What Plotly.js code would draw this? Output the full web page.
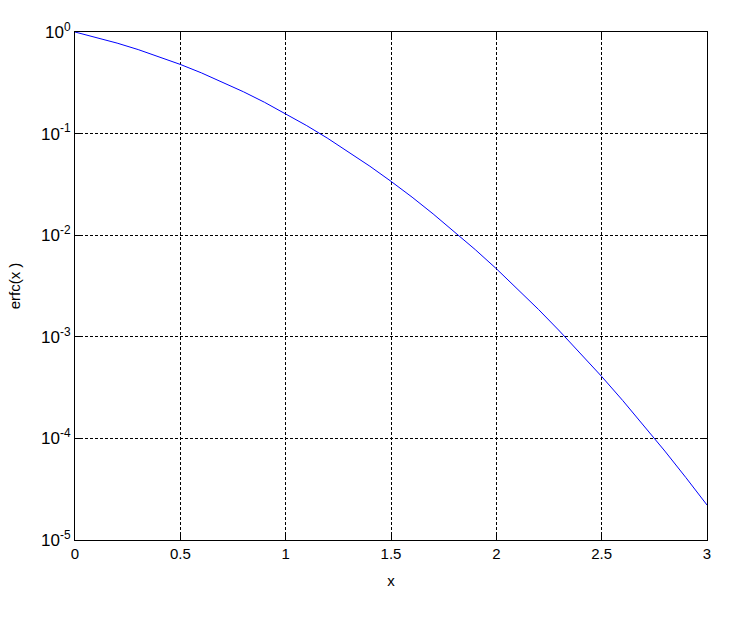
<!DOCTYPE html>
<html>
<head>
<meta charset="utf-8">
<script src="https://cdn.plot.ly/plotly-3.0.1.min.js"></script>
<style>html,body{margin:0;padding:0;background:#fff;}#chart{width:752px;height:618px;}</style>
</head>
<body>
<div id="chart"></div>
<script>
const xValues = [0,0.1,0.2,0.3,0.4,0.5,0.6,0.7,0.8,0.9,1.0,1.1,1.2,1.3,1.4,1.5,1.6,1.7,1.8,1.9,2.0,2.1,2.2,2.3,2.4,2.5,2.6,2.7,2.8,2.9,3.0];
const erfcValues = [1,0.8875,0.7773,0.6714,0.5716,0.4795,0.3961,0.3222,0.2579,0.2031,0.1573,0.1198,0.0897,0.0660,0.0477,0.0339,0.0237,0.0162,0.0109,0.00721,0.00468,0.00298,0.00186,0.00114,0.000689,0.000407,0.000236,0.000134,0.0000750,0.0000411,0.0000221];
const xTicks = [0,0.5,1,1.5,2,2.5,3];
const xTickLabels = ['0','0.5','1','1.5','2','2.5','3'];
const yTicks = [1,0.1,0.01,0.001,0.0001,0.00001];
const yTickLabels = ['10<sup>0</sup>','10<sup>-1</sup>','10<sup>-2</sup>','10<sup>-3</sup>','10<sup>-4</sup>','10<sup>-5</sup>'];

const font = {family:'Liberation Sans, Arial, sans-serif', size:15, color:'#000'};
const yfont = {family:'Liberation Sans, Arial, sans-serif', size:17, color:'#000'};
Plotly.newPlot('chart', [{
  x: xValues, y: erfcValues, type:'scatter', mode:'lines',
  line:{color:'#0000ff', width:1}
}], {
  width:752, height:618,
  margin:{l:75, r:45, t:32, b:78},
  paper_bgcolor:'#fff', plot_bgcolor:'#fff',
  showlegend:false,
  font: font,
  xaxis:{
    range:[0,3], tickvals:xTicks, ticktext:xTickLabels,
    showgrid:true, gridcolor:'#000', griddash:'3px,2px', gridwidth:1,
    showline:true, linecolor:'#000', linewidth:1, mirror:'ticks',
    ticks:'inside', ticklen:5, tickcolor:'#000',
    zeroline:false, tickfont:font,
    title:{text:'x', font:font, standoff:14}
  },
  yaxis:{
    type:'log', range:[-5,0], tickvals:yTicks, ticktext:yTickLabels,
    showgrid:true, gridcolor:'#000', griddash:'3px,2px', gridwidth:1,
    showline:true, linecolor:'#000', linewidth:1, mirror:'ticks',
    ticks:'inside', ticklen:5, tickcolor:'#000',
    zeroline:false, tickfont:yfont,
    title:{text:'erfc(x )', font:font, standoff:16}
  }
}, {staticPlot:true, displayModeBar:false});
</script>
</body>
</html>
